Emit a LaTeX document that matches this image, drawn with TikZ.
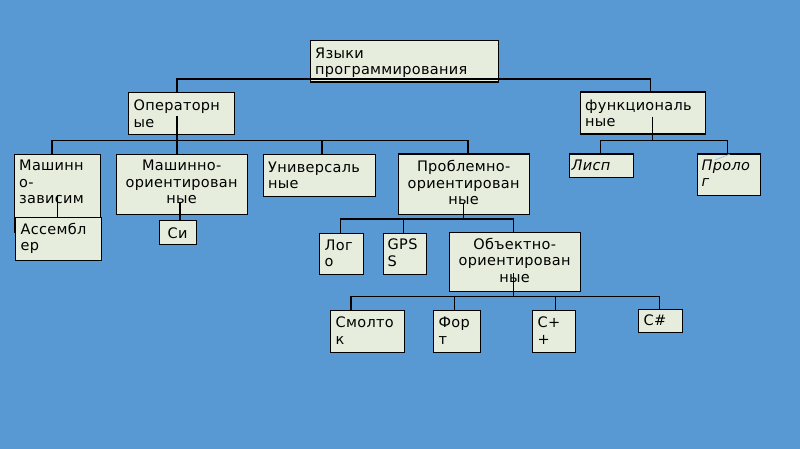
\documentclass[tikz,border=0pt]{standalone}
\usepackage{fontspec}
\setmainfont[LetterSpace=2]{DejaVu Sans}
\usetikzlibrary{calc}
\definecolor{bg}{RGB}{88,153,212}
\definecolor{boxfill}{RGB}{231,237,220}
\tikzset{
  box/.style={draw=black, fill=boxfill, line width=1.3pt, inner sep=0pt, anchor=north west},
  conn/.style={draw=black, line width=1.3pt},
  txt/.style={inner sep=0pt, font=\fontsize{14.5}{16.5}\selectfont},
}
\newcommand\BoxL[1]{\begin{tabular}[t]{@{}l@{}}#1\end{tabular}}
\newcommand\BoxC[1]{\begin{tabular}[t]{@{}c@{}}#1\end{tabular}}
\begin{document}
\begin{tikzpicture}[x=1pt,y=-1pt]
\fill[bg] (0,0) rectangle (800,449);
\useasboundingbox (0,0) rectangle (800,449);
% boxes
\node[box, minimum width=188.5pt, minimum height=41.5pt] (yaz) at (309.5,40) {};
\node[box, minimum width=105.5pt, minimum height=42pt] (op) at (128,92) {};
\node[box, minimum width=125.5pt, minimum height=42pt] (fn) at (579.5,91.5) {};
\node[box, minimum width=86pt, minimum height=78pt] (mz) at (13.5,154) {};
\node[box, minimum width=131pt, minimum height=60pt] (mo) at (115.5,154) {};
\node[box, minimum width=112pt, minimum height=42pt] (un) at (262.5,154) {};
\node[box, minimum width=131pt, minimum height=60pt] (pr) at (397.5,153.5) {};
\node[box, minimum width=64pt, minimum height=23.5pt] (lisp) at (568.5,153.5) {};
\node[box, minimum width=63pt, minimum height=41.5pt] (prol) at (696.5,153.5) {};
\node[box, minimum width=86pt, minimum height=42.5pt] (asm) at (14.5,217) {};
\node[box, minimum width=37pt, minimum height=24pt] (si) at (158.5,219.5) {};
\node[box, minimum width=44pt, minimum height=41pt] (logo) at (318.5,232.5) {};
\node[box, minimum width=43pt, minimum height=41pt] (gpss) at (382.5,232.5) {};
\node[box, minimum width=131pt, minimum height=59.5pt] (oo) at (448.5,231.5) {};
\node[box, minimum width=74pt, minimum height=42pt] (smol) at (329.5,309.5) {};
\node[box, minimum width=47pt, minimum height=42pt] (fort) at (432.5,309.5) {};
\node[box, minimum width=43pt, minimum height=42pt] (cpp) at (531.5,309.5) {};
\node[box, minimum width=44pt, minimum height=23.5pt] (cs) at (637.5,308.5) {};
% texts
\node[txt, anchor=base west] (t-yaz) at ($(yaz.north west)+(5.5,18.3)$) {\BoxL{Языки\\программирования}};
\node[txt, anchor=base west] (t-op) at ($(op.north west)+(5.5,19)$) {\BoxL{Операторн\\ые}};
\node[txt, anchor=base west] (t-fn) at ($(fn.north west)+(5.5,18.7)$) {\BoxL{функциональ\\ные}};
\node[txt, anchor=base west] (t-mz) at ($(mz.north west)+(5.5,16.7)$) {\BoxL{Машинн\\о-\\зависим}};
\node[txt, anchor=base] (t-mo) at ($(mo.north)+(0,16.7)$) {\BoxC{Машинно-\\ориентирован\\ные}};
\node[txt, anchor=base west] (t-un) at ($(un.north west)+(5.5,18.3)$) {\BoxL{Универсаль\\ные}};
\node[txt, anchor=base] (t-pr) at ($(pr.north)+(0,18.3)$) {\BoxC{Проблемно-\\ориентирован\\ные}};
\node[txt, anchor=base west] (t-lisp) at ($(lisp.north west)+(3,16.7)$) {\BoxL{\itshape Лисп}};
\node[txt, anchor=base west] (t-prol) at ($(prol.north west)+(5,16.7)$) {\BoxL{\itshape Проло\\\itshape г}};
\node[txt, anchor=base west] (t-asm) at ($(asm.north west)+(6,17)$) {\BoxL{Ассембл\\ер}};
\node[txt, anchor=base] (t-si) at ($(si.north)+(0,19)$) {\BoxC{Си}};
\node[txt, anchor=base west] (t-logo) at ($(logo.north west)+(6,17.7)$) {\BoxL{Лог\\о}};
\node[txt, anchor=base west] (t-gpss) at ($(gpss.north west)+(5,17)$) {\BoxL{GPS\\S}};
\node[txt, anchor=base] (t-oo) at ($(oo.north)+(0,17.7)$) {\BoxC{Объектно-\\ориентирован\\ные}};
\node[txt, anchor=base west] (t-smol) at ($(smol.north west)+(6,18)$) {\BoxL{Смолто\\к}};
\node[txt, anchor=base west] (t-fort) at ($(fort.north west)+(6,18)$) {\BoxL{Фор\\т}};
\node[txt, anchor=base west] (t-cpp) at ($(cpp.north west)+(6,18)$) {\BoxL{C+\\+}};
\node[txt, anchor=base west] (t-cs) at ($(cs.north west)+(6,16.7)$) {\BoxL{C\#}};
% connector coordinates
\coordinate (b1) at ($(yaz.south)+(0,-3.8)$);
\coordinate (op-in) at ($(op.north west)+(49,0)$);
\coordinate (fn-in) at ($(fn.north west)+(71,0)$);
\coordinate (op-out) at ($(op.north west)+(49,24)$);
\coordinate (b2) at ($(op.south)+(0,5.3)$);
\coordinate (mz-in) at ($(mz.north west)+(38.5,0)$);
\coordinate (mo-in) at ($(mo.north west)+(61.5,0)$);
\coordinate (un-in) at ($(un.north west)+(59.5,0)$);
\coordinate (pr-in) at ($(pr.north west)+(70.5,0)$);
\coordinate (mz-out) at ($(mz.north west)+(43.8,41)$);
\coordinate (mo-out) at ($(mo.north west)+(64.5,49)$);
\coordinate (pr-out) at ($(pr.north west)+(65.8,49.5)$);
\coordinate (b3) at ($(pr.south)+(0,4.2)$);
\coordinate (logo-in) at ($(logo.north west)+(22.2,0)$);
\coordinate (gpss-in) at ($(gpss.north west)+(20.8,0)$);
\coordinate (oo-in) at ($(oo.north west)+(64.8,0)$);
\coordinate (oo-out) at ($(oo.north west)+(64.8,41.5)$);
\coordinate (b4) at ($(oo.south)+(0,4)$);
\coordinate (smol-in) at ($(smol.north west)+(21.5,0)$);
\coordinate (fort-in) at ($(fort.north west)+(21.8,0)$);
\coordinate (cpp-in) at ($(cpp.north west)+(23.8,0)$);
\coordinate (cs-in) at ($(cs.north west)+(21.8,0)$);
\coordinate (fn-out) at ($(fn.north west)+(72.8,25.2)$);
\coordinate (b5) at ($(fn.south)+(0,5.8)$);
\coordinate (lisp-in) at ($(lisp.north west)+(31.8,0)$);
\coordinate (prol-in) at ($(prol.north west)+(31.2,0)$);
% connectors
\draw[conn] (op-in) -- (op-in |- b1) -- (fn-in |- b1) -- (fn-in);
\draw[conn] (op-out) -- (op-out |- b2);
\draw[conn] (mz-in) -- (mz-in |- b2) -- (pr-in |- b2) -- (pr-in);
\draw[conn] (mo-in) -- (mo-in |- b2);
\draw[conn] (un-in) -- (un-in |- b2);
\draw[conn] (mz-out) -- (mz-out |- asm.north);
\draw[conn] (mo-out) -- (mo-out |- si.north);
\draw[conn] (pr-out) -- (pr-out |- b3);
\draw[conn] (logo-in) -- (logo-in |- b3) -- (oo-in |- b3) -- (oo-in);
\draw[conn] (gpss-in) -- (gpss-in |- b3);
\draw[conn] (oo-out) -- (oo-out |- b4);
\draw[conn] (smol-in) -- (smol-in |- b4) -- (cs-in |- b4) -- (cs-in);
\draw[conn] (fort-in) -- (fort-in |- b4);
\draw[conn] (cpp-in) -- (cpp-in |- b4);
\draw[conn] (fn-out) -- (fn-out |- b5);
\draw[conn] (lisp-in) -- (lisp-in |- b5) -- (prol-in |- b5) -- (prol-in);
\draw[line width=0.6pt, color=bg!70!white] ($(prol.north west)+(18.5,6.5)$) -- ($(prol.north west)+(33.5,0.5)$);
\end{tikzpicture}
\end{document}
